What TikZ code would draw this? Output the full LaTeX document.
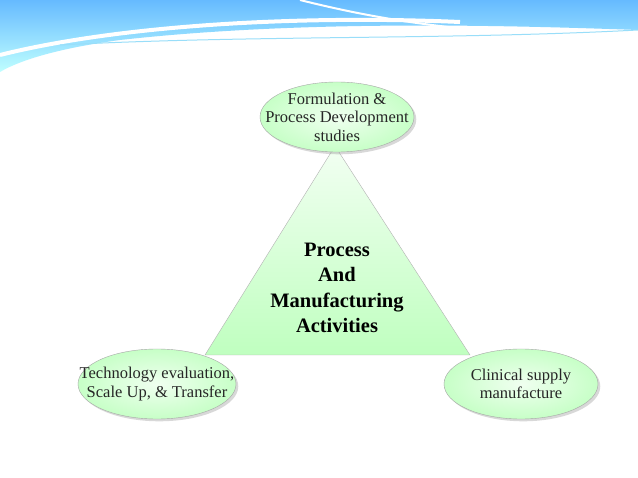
\documentclass[tikz,border=0pt]{standalone}
\usepackage{fontspec}
\setmainfont{Liberation Serif}
\usetikzlibrary{shapes.geometric,shadows}
\begin{document}
\begin{tikzpicture}[x=1pt,y=-1pt,
  ovalfill/.style={draw=gray!70,inner color=green!6,outer color=green!22!white,drop shadow={opacity=0.3}},
  ovaltext/.style={align=center,font=\fontsize{16.5}{18.5}\selectfont,text=black!85}]
\useasboundingbox (0,0) rectangle (638,478);
\fill[white] (0,0) rectangle (638,478);
% banner
\shade[top color=cyan!55!blue!60,bottom color=cyan!25] (0,0) -- (638,0) -- (638,30) .. controls (500,25) and (300,20) .. (120,40) .. controls (60,48) and (20,60) .. (0,72) -- cycle;
\draw[white,line width=4pt] (0,55) .. controls (120,25) and (300,15) .. (460,22);
\draw[white,line width=2pt] (300,0) .. controls (380,20) and (450,30) .. (560,36);
\draw[cyan!40,line width=1pt] (60,45) .. controls (250,35) and (450,40) .. (638,30);
% triangle
\shade[top color=green!5,bottom color=green!25,draw=gray!60] (335,146) -- (470,355) -- (205,355) -- cycle;
\node[font=\fontsize{20.5}{25.5}\selectfont\bfseries,align=center] (c) at (337,288) {Process\\And\\Manufacturing\\Activities};
\path[ovalfill] (337,117) ellipse [x radius=77,y radius=35];
\path[ovalfill] (157,384) ellipse [x radius=79,y radius=35];
\path[ovalfill] (521,384) ellipse [x radius=77,y radius=35];
\node[ovaltext] (t) at (337,117) {Formulation \&\\Process Development\\studies};
\node[ovaltext] (l) at (157,384) {Technology evaluation,\\Scale Up, \& Transfer};
\node[ovaltext] (r) at (521,384) {Clinical supply\\manufacture};
\end{tikzpicture}
\end{document}
